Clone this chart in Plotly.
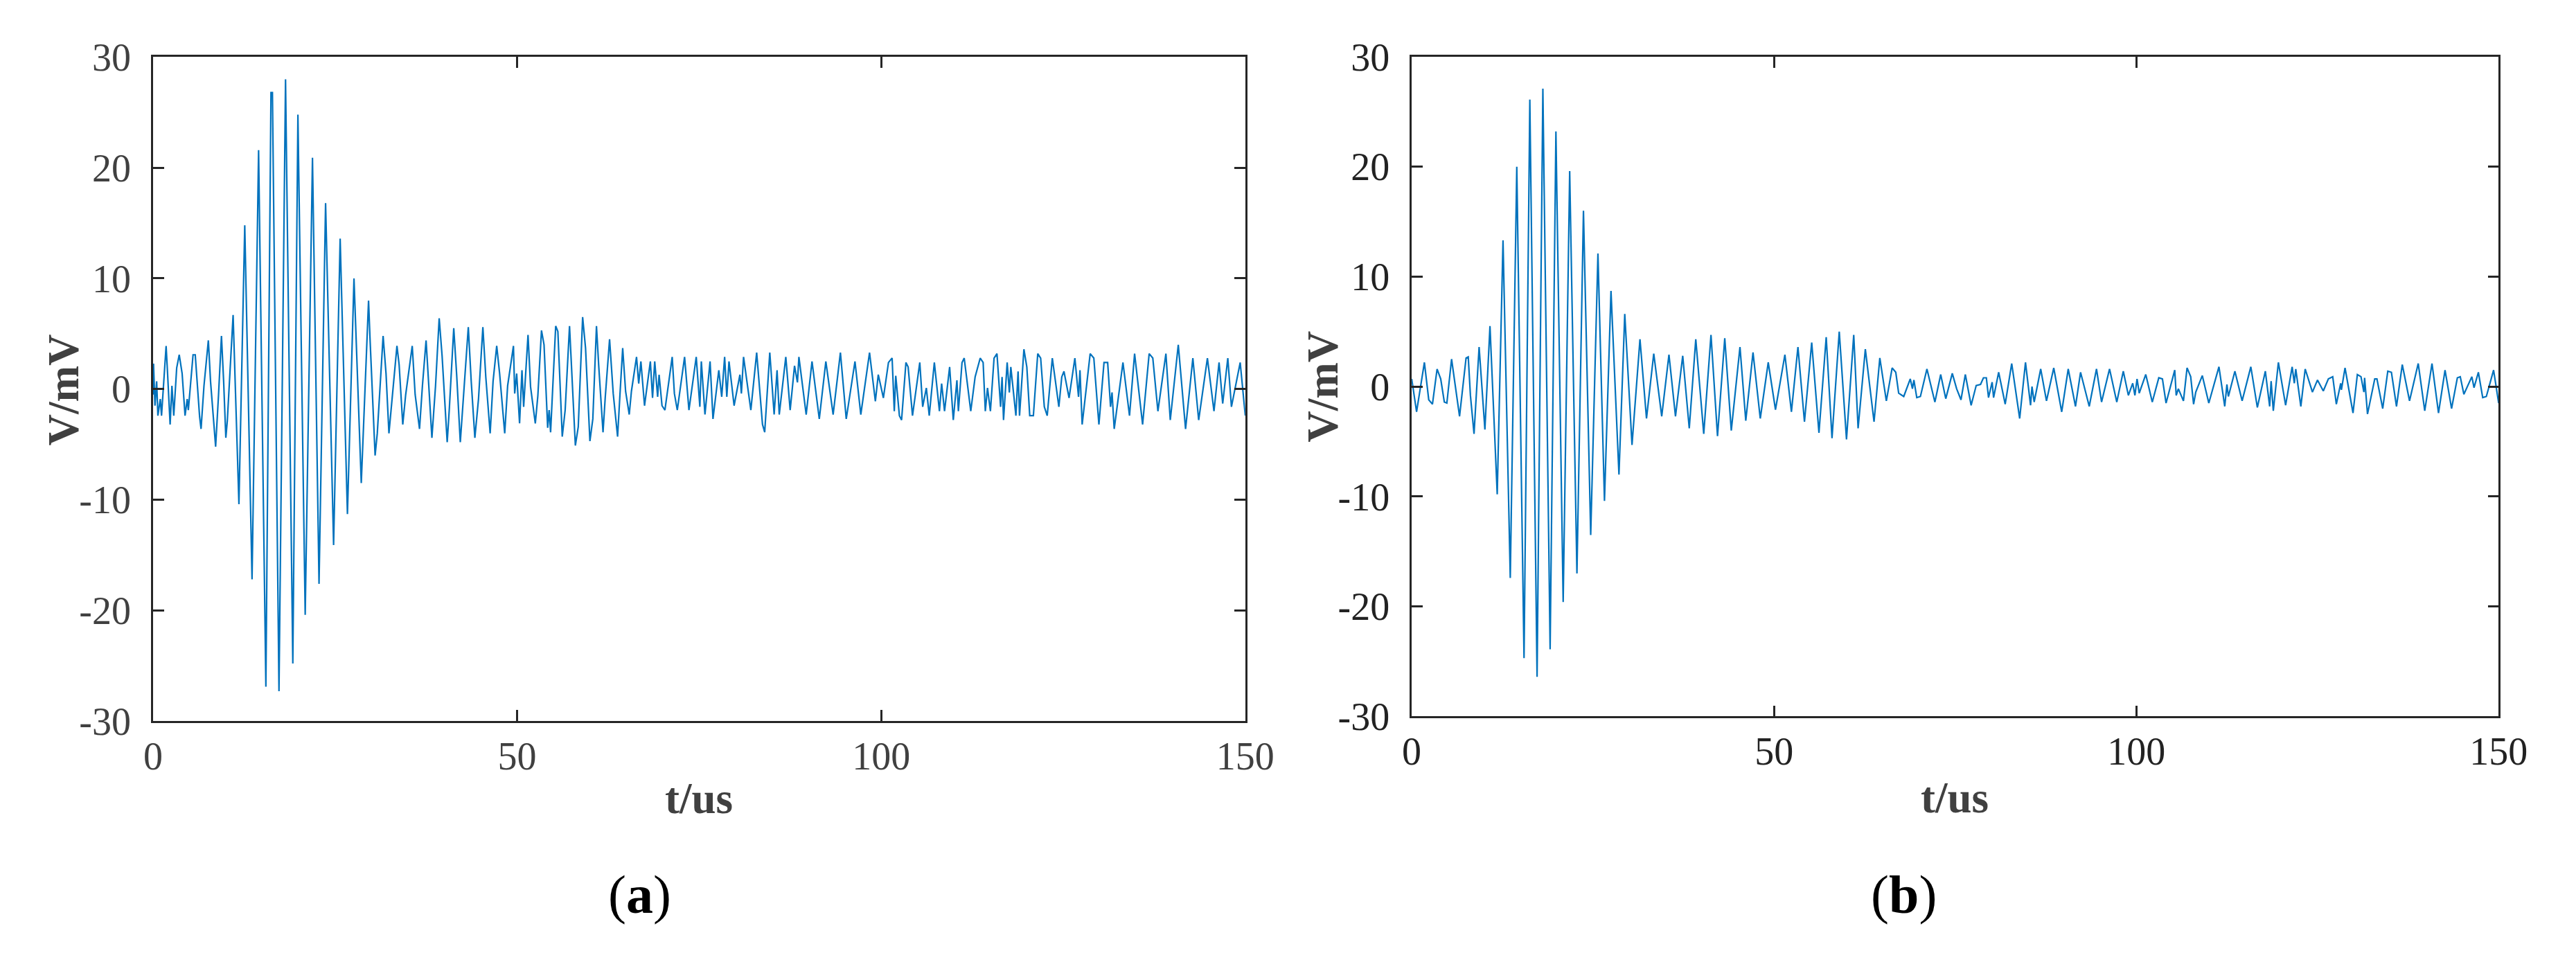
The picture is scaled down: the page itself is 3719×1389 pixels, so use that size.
import plotly.graph_objects as go
from plotly.subplots import make_subplots

# ----------------------------------------------------------------------------
# data (t in us, V in mV): peaks, troughs and wiggles
# ----------------------------------------------------------------------------

# (a) raw signal
t_a = [0.0, 0.07, 0.27, 0.5, 0.67, 1.0, 1.17, 1.8, 2.0, 2.35, 2.6, 2.85, 3.25, 3.6, 4.0,
       4.4, 4.7, 4.85, 5.5, 5.8, 6.4, 6.6, 7.0, 7.6, 7.9, 8.2, 8.6, 9.0, 9.4, 9.7,
       10.0, 10.2, 11.0, 11.8, 12.6, 13.6, 14.5, 15.5, 16.2, 16.4, 17.3, 18.2, 19.2, 19.9, 20.9,
       21.9, 22.8, 23.7, 24.8, 25.7, 26.7, 27.6, 28.6, 29.6, 29.8, 30.5, 30.8, 31.6, 32.0, 32.4,
       32.7, 33.5, 33.8, 34.3, 34.7, 35.6, 36.0, 36.6, 37.0, 37.5, 38.3, 38.8, 39.3, 39.7, 40.4,
       40.7, 41.3, 41.7, 42.2, 43.3, 43.7, 44.2, 44.7, 45.3, 45.7, 46.3, 46.7, 47.2, 47.6, 48.3,
       48.7, 49.5, 49.67, 49.94, 50.34, 50.67, 50.9, 51.5, 51.85, 52.5, 52.85, 53.35, 53.7, 54.2, 54.4,
       54.6, 55.3, 55.6, 56.2, 56.6, 57.2, 58.0, 58.4, 59.0, 59.4, 60.0, 60.4, 60.9, 61.2, 61.8,
       62.1, 62.7, 63.2, 63.8, 64.1, 64.5, 64.9, 65.4, 65.7, 66.4, 66.7, 67.0, 67.5, 68.3, 68.6,
       68.9, 69.3, 69.5, 69.9, 70.3, 71.3, 71.6, 72.0, 73.0, 73.6, 74.6, 75.1, 75.3, 75.8, 76.5,
       76.9, 77.7, 78.1, 78.5, 78.8, 79.1, 79.8, 80.6, 80.8, 81.1, 82.1, 82.9, 83.7, 84.0, 84.7,
       85.3, 85.7, 86.0, 86.9, 87.5, 88.1, 88.5, 88.7, 89.7, 90.5, 91.5, 92.4, 93.4, 94.4, 95.2,
       96.4, 97.2, 98.4, 99.2, 99.6, 100.3, 101.0, 101.5, 101.8, 102.0, 102.5, 102.8, 103.4, 103.7, 104.3,
       105.3, 105.7, 106.2, 106.6, 107.3, 108.0, 108.3, 108.7, 109.4, 109.9, 110.4, 110.6, 111.1, 111.4, 112.3,
       112.9, 113.6, 114.0, 114.3, 114.6, 115.0, 115.5, 115.9, 116.4, 116.6, 116.8, 117.3, 117.6, 117.8, 118.5,
       118.8, 119.0, 119.6, 120.0, 120.4, 120.9, 121.5, 121.9, 122.4, 122.8, 123.5, 124.4, 124.8, 125.1, 125.8,
       126.6, 127.1, 127.3, 127.6, 128.7, 129.2, 129.9, 130.6, 131.1, 131.5, 131.7, 132.0, 133.2, 134.1, 134.8,
       135.9, 136.8, 137.3, 138.0, 139.1, 139.7, 140.8, 141.8, 142.8, 143.6, 144.8, 145.7, 146.4, 146.9, 147.6,
       148.1, 149.3, 150.0]
v_a = [-0.5, 2.3, -1.5, 0.7, -2.4, -0.9, -2.4, 3.9, 1.4, -3.2, 0.3, -2.4, 1.9, 3.1, 1.4,
       -2.4, -0.9, -1.9, 3.1, 3.1, -2.5, -3.6, 0.3, 4.4, 0.7, -2.1, -5.2, -0.5, 4.8, 0.7,
       -4.4, -2.9, 6.7, -10.4, 14.8, -17.2, 21.6, -26.9, 26.8, 26.8, -27.3, 28.0, -24.8, 24.8, -20.4,
       20.9, -17.6, 16.8, -14.1, 13.6, -11.3, 10.0, -8.5, 8.0, 4.6, -6.0, -4.0, 4.8, 1.4, -4.0,
       -1.7, 3.9, 2.2, -3.2, -0.5, 3.9, -0.5, -3.6, 0.3, 4.4, -4.4, 0.3, 6.4, 3.0, -4.8,
       -1.7, 5.5, 1.3, -4.8, 5.6, 0.7, -4.4, -0.9, 5.6, 1.1, -4.0, 0.7, 3.9, 1.4, -4.0,
       0.3, 3.9, -0.4, 1.4, -3.1, 1.7, -1.6, 4.9, 0.2, -3.1, -0.6, 5.3, 4.0, -3.5, -1.9,
       -3.9, 5.7, 5.2, -4.3, -1.9, 5.7, -5.1, -3.4, 6.5, 3.7, -4.7, -2.7, 5.7, 2.2, -3.9,
       -0.8, 4.5, -0.4, -4.3, -0.8, 3.7, -0.2, -2.3, -0.2, 2.9, 0.5, 2.5, -1.5, 2.5, -0.8,
       2.5, -0.7, 1.3, -1.5, -1.9, 2.9, -0.4, -1.9, 2.9, -1.9, 2.9, -1.6, 2.5, -2.3, 2.5,
       -2.7, 1.7, -0.7, 2.9, -0.7, 2.5, -1.5, 1.3, -0.4, 2.9, -1.9, 3.3, -3.2, -3.9, 3.3,
       -2.3, 1.7, -2.3, 2.9, -1.9, 2.1, 0.6, 2.9, -2.3, 2.5, -2.7, 2.5, -2.3, 3.3, -2.7,
       2.5, -2.3, 3.3, -1.1, 1.3, -0.8, 2.4, 2.8, -2.0, 1.2, -2.4, -2.8, 2.4, 2.0, -2.4,
       2.4, -1.6, 0.1, -2.4, 2.4, -2.0, 0.5, -2.0, 2.0, -2.8, 0.8, -2.0, 2.4, 2.8, -2.0,
       1.1, 2.8, 2.4, -2.0, 0.1, -2.0, 2.8, 3.2, -1.6, 1.1, -2.8, 2.4, -0.3, 2.0, -2.4,
       1.6, -2.4, 3.6, 2.0, -2.4, -2.4, 3.2, 2.8, -1.6, -2.4, 2.8, -1.6, 1.1, 1.6, -0.8,
       2.8, -0.7, 1.7, -3.2, 3.2, 2.8, -3.2, 2.4, 2.4, -1.6, -0.3, -3.6, 2.4, -2.4, 3.2,
       -3.2, 3.2, 2.8, -2.0, 3.2, -2.8, 4.0, -3.6, 2.8, -2.8, 2.8, -2.0, 2.4, -1.3, 2.8,
       -1.6, 2.4, -2.4]

# (b) filtered signal
t_b = [0.0, 0.67, 1.75, 2.35, 2.86, 3.5, 4.0, 4.5, 4.85, 5.5, 6.6, 7.5, 7.8, 8.1, 8.6,
       9.3, 10.1, 10.8, 11.8, 12.6, 13.6, 14.5, 15.5, 16.3, 17.3, 18.1, 19.1, 19.9, 20.9, 21.8,
       22.8, 23.7, 24.7, 25.7, 26.6, 27.5, 28.6, 29.4, 30.4, 31.5, 32.4, 33.4, 34.5, 35.5, 36.4,
       37.4, 38.3, 39.2, 40.3, 41.3, 42.2, 43.2, 44.1, 45.3, 46.1, 47.1, 48.1, 49.2, 50.2, 51.5,
       52.4, 53.3, 54.2, 55.2, 56.2, 57.2, 58.0, 59.0, 60.0, 61.0, 61.6, 62.6, 63.8, 64.6, 65.5,
       66.3, 66.8, 67.2, 67.9, 68.8, 69.1, 69.3, 69.7, 70.2, 71.1, 72.2, 73.0, 73.7, 74.6, 75.2,
       75.8, 76.4, 77.2, 77.9, 78.5, 78.9, 79.3, 79.6, 80.1, 80.3, 81.0, 81.9, 82.8, 83.9, 84.7,
       85.0, 85.4, 85.6, 85.9, 86.8, 87.6, 88.6, 89.7, 90.6, 91.6, 92.3, 93.5, 94.5, 95.2, 96.3,
       97.3, 98.2, 98.9, 99.5, 99.8, 100.1, 100.4, 101.3, 102.2, 103.1, 103.6, 104.1, 105.3, 105.5, 105.8,
       106.5, 107.0, 107.5, 107.9, 108.2, 109.1, 110.0, 111.4, 112.2, 112.5, 112.7, 113.6, 114.6, 115.8, 116.7,
       117.8, 118.4, 118.6, 118.9, 119.6, 120.6, 121.5, 121.8, 122.0, 122.7, 123.3, 124.3, 125.0, 125.8, 126.5,
       127.1, 127.6, 128.2, 128.3, 128.8, 129.9, 130.5, 131.0, 131.4, 131.5, 131.9, 132.9, 133.2, 134.0, 134.7,
       135.2, 135.9, 136.7, 137.7, 138.9, 139.8, 140.8, 141.7, 142.6, 143.5, 144.3, 144.7, 145.2, 146.3, 146.6,
       147.2, 147.8, 148.3, 149.3, 150.0]
v_b = [0.7, -2.3, 2.2, -1.2, -1.6, 1.6, 0.7, -1.4, -1.5, 2.5, -2.7, 2.6, 2.7, -0.8, -4.3,
       3.6, -3.9, 5.5, -9.8, 13.3, -17.4, 20.0, -24.7, 26.1, -26.4, 27.1, -23.9, 23.2, -19.6, 19.6,
       -17.0, 16.0, -13.5, 12.1, -10.4, 8.7, -8.0, 6.6, -5.3, 4.3, -2.9, 3.0, -2.7, 2.9, -2.7,
       2.8, -3.8, 4.3, -4.3, 4.7, -4.5, 4.4, -4.0, 3.6, -3.1, 3.1, -2.9, 2.2, -2.1, 2.9,
       -2.3, 3.6, -3.2, 4.0, -4.2, 4.5, -4.7, 5.0, -4.8, 4.7, -3.8, 3.4, -3.2, 2.6, -1.3,
       1.7, 1.3, -0.6, -0.9, 0.7, -0.2, 0.6, -1.0, -0.9, 1.6, -1.4, 1.1, -1.1, 1.2, -0.2,
       -1.2, 1.1, -1.7, 0.1, 0.2, 0.8, 0.8, -1.0, 0.4, -1.0, 1.3, -1.6, 2.1, -2.9, 2.2,
       0.6, -1.7, 0.0, -1.4, 1.6, -1.3, 1.7, -2.3, 1.6, -1.8, 1.3, -1.8, 1.6, -1.4, 1.6,
       -1.4, 1.4, -0.8, 0.3, -0.8, 0.7, -0.6, 1.1, -1.4, 0.8, 0.7, -1.5, 1.5, -0.8, -0.2,
       -1.3, 1.7, 0.9, -1.6, -0.5, 1.0, -1.5, 1.8, -1.8, 0.2, -0.9, 1.4, -1.3, 1.8, -1.9,
       1.4, -1.8, 0.5, -2.2, 2.2, -1.7, 1.8, 0.3, 1.6, -1.8, 1.6, -0.5, 0.6, -0.4, 0.7,
       0.9, -1.6, 0.3, -0.3, 1.7, -2.4, 1.1, 0.9, -0.5, 0.8, -2.5, 0.7, 0.7, -2.0, 1.4,
       1.3, -1.8, 2.0, -1.3, 2.1, -2.2, 2.1, -2.4, 1.5, -2.0, 0.8, 0.9, -0.7, 0.9, -0.1,
       1.3, -1.0, -0.9, 1.5, -1.5]

x_ticks = [0, 50, 100, 150]
x_tick_labels = ["0", "50", "100", "150"]
y_ticks = [-30, -20, -10, 0, 10, 20, 30]
y_tick_labels = ["-30", "-20", "-10", "0", "10", "20", "30"]

# ----------------------------------------------------------------------------
# figure
# ----------------------------------------------------------------------------
W, H = 3719, 1389
LINE_BLUE = "#0072BD"
AXIS_COLOR = "#262626"
SERIF = "Liberation Serif, Times New Roman, serif"

fig = make_subplots(rows=1, cols=2)

fig.add_trace(go.Scatter(x=t_a, y=v_a, mode="lines",
                         line=dict(color=LINE_BLUE, width=2.2), showlegend=False), row=1, col=1)
fig.add_trace(go.Scatter(x=t_b, y=v_b, mode="lines",
                         line=dict(color=LINE_BLUE, width=2.2), showlegend=False), row=1, col=2)

panels = [
    # x domain, y domain, tick label colour
    ([0.0543, 0.4848], [0.2441, 0.9665], "#404040"),
    ([0.5504, 0.9788], [0.2491, 0.9669], "#222222"),
]

for i, (xd, yd, tick_col) in enumerate(panels, start=1):
    common = dict(showline=True, linecolor=AXIS_COLOR, linewidth=2.5, mirror="ticks",
                  ticks="inside", ticklen=16, tickwidth=2.5, tickcolor=AXIS_COLOR,
                  showgrid=False, zeroline=False, tickmode="array",
                  tickfont=dict(family=SERIF, size=56, color=tick_col))
    fig.update_xaxes(domain=xd, range=[0, 150], tickvals=x_ticks, ticktext=x_tick_labels,
                     ticklabelstandoff=0, row=1, col=i, **common)
    fig.update_yaxes(domain=yd, range=[-30, 30], tickvals=y_ticks, ticktext=y_tick_labels,
                     ticklabelstandoff=18, row=1, col=i, **common)

title_font = dict(family=SERIF, size=63, color="#404040")
labels = [
    # text, x, y, angle, font
    ("<b>V/mV</b>", 72, 549, -90, title_font),
    ("<b>V/mV</b>", 1917, 545, -90, title_font),
    ("<b>t/us</b>", 1002, 1167, 0, title_font),
    ("<b>t/us</b>", 2843, 1166, 0, title_font),
    ("(<b>a</b>)", 915, 1312, 0, dict(family=SERIF, size=78, color="black")),
    ("(<b>b</b>)", 2768, 1312, 0, dict(family=SERIF, size=78, color="black")),
]
for text, px, py, ang, font in labels:
    fig.add_annotation(text=text, x=px / W, y=1 - py / H, xref="paper", yref="paper",
                       xanchor="center", yanchor="middle", textangle=ang,
                       showarrow=False, font=font)

fig.update_layout(width=W, height=H, autosize=False,
                  margin=dict(l=0, r=0, t=0, b=0),
                  paper_bgcolor="white", plot_bgcolor="white")

fig.write_html("out.html")
